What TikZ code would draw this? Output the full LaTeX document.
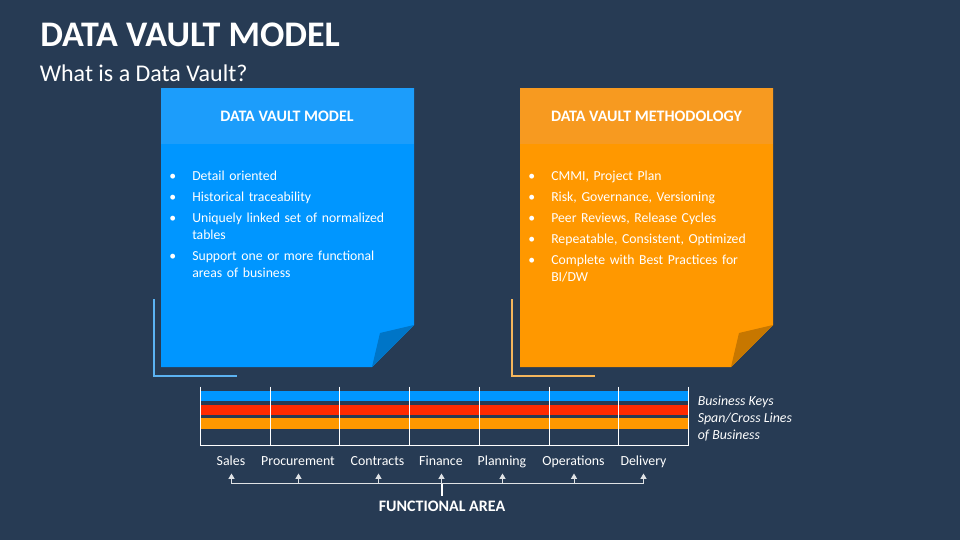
\documentclass[tikz,border=0pt]{standalone}
\usepackage{fontspec}
\setmainfont{Carlito}
\usetikzlibrary{arrows.meta}
\definecolor{bg}{HTML}{273B54}
\definecolor{bluemain}{HTML}{0096FF}
\definecolor{bluehead}{HTML}{1C9DFB}
\definecolor{bluefold}{HTML}{0075C7}
\definecolor{blueline}{HTML}{5CB3F2}
\definecolor{orangemain}{HTML}{FF9800}
\definecolor{orangehead}{HTML}{F79A20}
\definecolor{orangefold}{HTML}{C77700}
\definecolor{orangeline}{HTML}{F5B65C}
\definecolor{redbar}{HTML}{FF2A00}
\tikzset{
 x=0.75pt,y=-0.75pt,
 txt/.style={text=white,inner sep=0pt,font=#1},
 heading/.style={text=white,inner sep=0pt,font=\bfseries\fontsize{12}{14}\selectfont,anchor=center},
 bullets/.style={text=white,inner sep=0pt,anchor=north west,text width=167pt,align=left,font=\fontsize{10.3}{12.75}\selectfont},
 rule/.style={white,line width=0.75pt},
 area/.style={text=white,inner sep=0pt,anchor=base,font=\fontsize{10.4}{12}\selectfont},
 uparrow/.style={white!85!bg,line width=0.75pt,-{Triangle[length=4pt,width=4.5pt]}},
}
\newcommand{\bulletlist}[1]{\begin{list}{•}{\setlength{\leftmargin}{17.25pt}\setlength{\labelwidth}{14.25pt}\setlength{\labelsep}{3pt}\setlength{\itemsep}{3pt}\setlength{\parsep}{0pt}\setlength{\topsep}{0pt}\setlength{\partopsep}{0pt}\setlength{\rightmargin}{0pt}\setlength{\itemindent}{0pt}\renewcommand{\makelabel}[1]{##1\hfil}}#1\end{list}}
\begin{document}
\begin{tikzpicture}
\useasboundingbox (0,0) rectangle (960,540);
\fill[bg] (0,0) rectangle (960,540);
% titles
\node[txt=\bfseries\fontsize{27}{32}\selectfont,anchor=base west] (title) at (40,46) {DATA VAULT MODEL};
\node[txt=\fontsize{18}{22}\selectfont,anchor=base west] (subtitle) at (39.5,81) {What is a Data Vault?};
% blue card
\draw[blueline,line width=1.5pt] (154,299) -- (154,376) -- (237,376);
\fill[bluemain] (161,88) -- (414,88) -- (414,325) -- (372,367) -- (161,367) -- cycle;
\fill[bluehead] (161,88) rectangle (414,144);
\fill[bluefold] (372,367) -- (380,333) -- (414,325) -- cycle;
\node[heading] (h1) at (287,116) {DATA VAULT MODEL};
\node[bullets] (b1) at (169,163) {\bulletlist{\item Detail oriented
\item Historical traceability
\item Uniquely linked set of normalized tables
\item Support one or more functional areas of business}};
% orange card
\draw[orangeline,line width=1.5pt] (512,299) -- (512,376) -- (595,376);
\fill[orangemain] (520,88) -- (773,88) -- (773,325) -- (731,367) -- (520,367) -- cycle;
\fill[orangehead] (520,88) rectangle (773,144);
\fill[orangefold] (731,367) -- (739,333) -- (773,325) -- cycle;
\node[heading] (h2) at (646.5,116) {DATA VAULT METHODOLOGY};
\node[bullets] (b2) at (528,163) {\bulletlist{\item CMMI, Project Plan
\item Risk, Governance, Versioning
\item Peer Reviews, Release Cycles
\item Repeatable, Consistent, Optimized
\item Complete with Best Practices for BI/DW}};
% bars
\fill[bluemain] (200.5,391) rectangle (688.5,401);
\fill[redbar] (200.5,405) rectangle (688.5,415);
\fill[orangemain] (200.5,418) rectangle (688.5,429);
\foreach \x in {200.5,270.5,339.5,409.5,479.5,549.5,618.5,688.5}
  \draw[rule] (\x,386.5) -- (\x,445.5);
\draw[rule] (200.5,445.5) -- (688.5,445.5);
% side label
\node[text=white,inner sep=0pt,anchor=north west,align=left,font=\itshape\fontsize{10.4}{12.75}\selectfont] (side) at (697.5,395.5) {Business Keys\\Span/Cross Lines\\of Business};
% functional areas
\node[area] (sales) at (231,465) {Sales};
\node[area] (proc) at (298,465) {Procurement};
\node[area] (cont) at (377.5,465) {Contracts};
\node[area] (fin) at (441,465) {Finance};
\node[area] (plan) at (502,465) {Planning};
\node[area] (oper) at (573.5,465) {Operations};
\node[area] (deli) at (643.5,465) {Delivery};
\node[txt=\bfseries\fontsize{12}{14}\selectfont,anchor=base] (func) at (442,511) {FUNCTIONAL AREA};
\coordinate (a1) at (231.5,483.5);
\coordinate (a2) at (298.5,483.5);
\coordinate (a3) at (378.5,483.5);
\coordinate (a4) at (441.5,483.5);
\coordinate (a5) at (502.5,483.5);
\coordinate (a6) at (574,483.5);
\coordinate (a7) at (643.5,483.5);
\draw[white!85!bg,line width=0.75pt] (a1) -- (a7);
\foreach \c in {a1,a2,a3,a4,a5,a6,a7}
  \draw[uparrow] (\c) -- ++(0,-10);
\draw[white,line width=1.1pt] (a4) ++(0.5,0) -- ++(0,12);
\end{tikzpicture}
\end{document}
